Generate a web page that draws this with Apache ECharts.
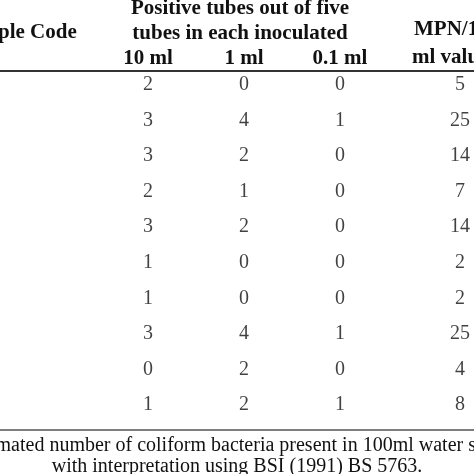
<!DOCTYPE html>
<html><head><meta charset="utf-8">
<script src="https://cdn.jsdelivr.net/npm/echarts@6/dist/echarts.min.js"></script>
<style>html,body{margin:0;background:#fff}#c{width:474px;height:474px}</style>
</head><body><div id="c"></div>
<script>
const columns = ['10 ml', '1 ml', '0.1 ml', 'MPN'];
const tube10 = [2, 3, 3, 2, 3, 1, 1, 3, 0, 1];
const tube1 = [0, 4, 2, 1, 2, 0, 0, 4, 2, 2];
const tube01 = [0, 1, 0, 0, 0, 0, 0, 1, 0, 1];
const mpn = [5, 25, 14, 7, 14, 2, 2, 25, 4, 8];
const colX = [148, 244, 340, 460];

const font = '"Liberation Serif", "Times New Roman", serif';
const chart = echarts.init(document.getElementById('c'));
const cols = [tube10, tube1, tube01, mpn];
const series = cols.map((vals, ci) => ({
  type: 'scatter', symbolSize: 0, silent: true,
  data: vals.map((v, r) => [colX[ci], r, v]),
  label: { show: true, position: 'inside', formatter: p => p.data[2],
    fontFamily: font, fontSize: 20, color: '#111' }
}));
const txt = (x, y, t, bold, align) => ({ type: 'text', x, y, style: {
  text: t, fontFamily: font, fontSize: bold ? 21 : 20, fontWeight: bold ? 'bold' : 'normal',
  fill: '#111', align: align || 'center', verticalAlign: 'middle' } });
chart.setOption({
  animation: false,
  grid: { left: 0, right: 0, top: 85, bottom: 69 },
  xAxis: { type: 'value', min: 0, max: 474, show: false },
  yAxis: { type: 'value', min: 0, max: 9, inverse: true, show: false },
  series,
  graphic: [
    txt(240, 9, 'Positive tubes out of five', true),
    txt(240, 34, 'tubes in each inoculated', true),
    txt(-2, 33, 'ple Code', true, 'left'),
    txt(414, 30, 'MPN/100', true, 'left'),
    txt(412, 58, 'ml value', true, 'left'),
    txt(colX[0], 59, columns[0], true),
    txt(colX[1], 59, columns[1], true),
    txt(colX[2], 59, columns[2], true),
    { type: 'line', shape: { x1: 0, y1: 71, x2: 474, y2: 71 }, style: { stroke: '#333', lineWidth: 2 } },
    { type: 'line', shape: { x1: 0, y1: 430, x2: 474, y2: 430 }, style: { stroke: '#555', lineWidth: 1.5 } },
    txt(-10, 446, 'imated number of coliform bacteria present in 100ml water samples', false, 'left'),
    txt(237, 467, 'with interpretation using BSI (1991) BS 5763.', false)
  ]
});
</script></body></html>
